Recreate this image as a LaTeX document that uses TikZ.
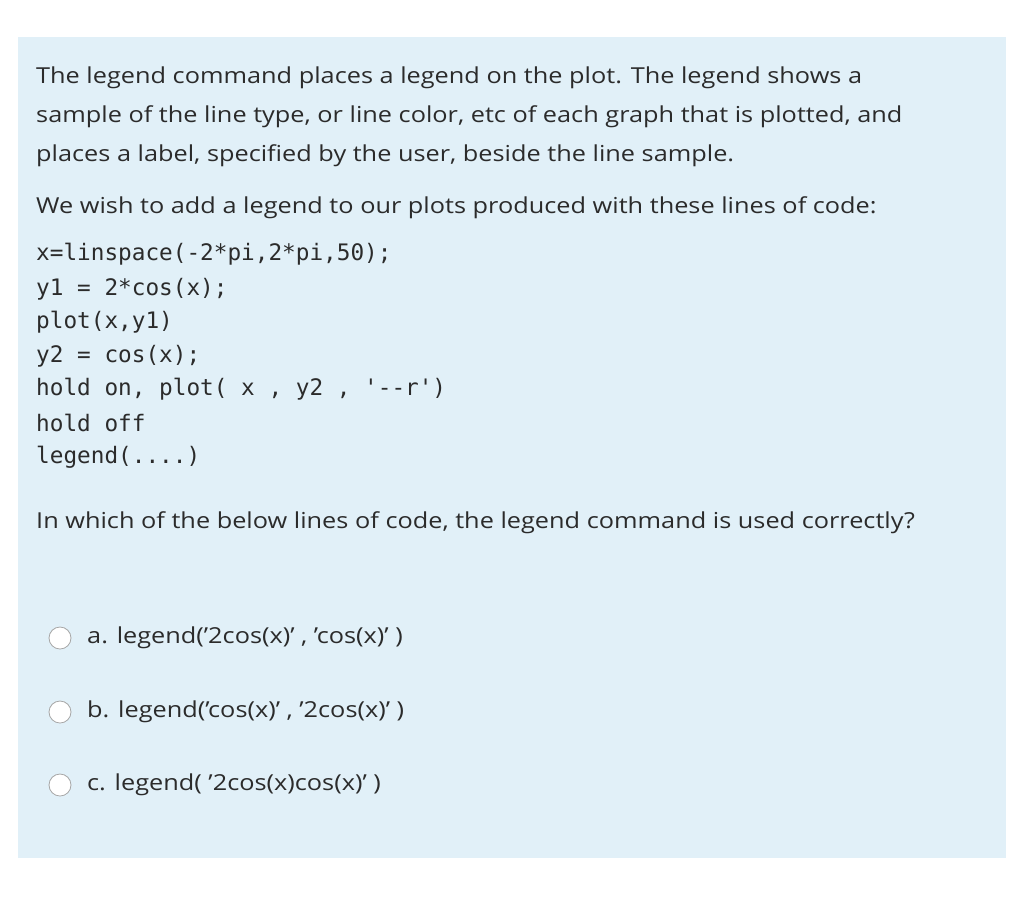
\documentclass[tikz,border=0pt]{standalone}
\usepackage{fontspec}
\setmainfont{Open Sans}[Ligatures=ResetAll]
\newfontfamily\codefont{DejaVu Sans Mono}
\definecolor{panel}{HTML}{E1F0F8}
\definecolor{txt}{HTML}{2B2B2B}
\begin{document}
\begin{tikzpicture}[x=1pt,y=-1pt,
  tl/.style={anchor=west,inner sep=0pt,font=\fontsize{22}{26}\selectfont\addfontfeature{FakeStretch=1.15},text=txt},
  cl/.style={anchor=west,inner sep=0pt,font=\codefont\fontsize{22.7}{26}\selectfont,text=txt},
  radio/.style={circle,draw=gray!70,fill=white,minimum size=22pt,inner sep=0pt,line width=0.8pt}]
\useasboundingbox (0,0) rectangle (1024,914);
\fill[white] (0,0) rectangle (1024,914);
\node[fill=panel,minimum width=988pt,minimum height=821pt,anchor=north west,inner sep=0pt] (panel) at (18,37) {};
\node[tl] (t1) at (36,78) {The legend command places a legend on the plot. The legend shows a};
\node[tl] (t2) at (36,117) {sample of the line type, or line color, etc of each graph that is plotted, and};
\node[tl] (t3) at (36,156) {places a label, specified by the user, beside the line sample.};
\node[tl] (t4) at (36,208) {We wish to add a legend to our plots produced with these lines of code:};
\node[cl] (c1) at (36,254) {x=linspace(-2*pi,2*pi,50);};
\node[cl] (c2) at (36,289) {y1 = 2*cos(x);};
\node[cl] (c3) at (36,322) {plot(x,y1)};
\node[cl] (c4) at (36,356) {y2 = cos(x);};
\node[cl] (c5) at (36,389) {hold on, plot( x , y2 , '--r')};
\node[cl] (c6) at (36,423) {hold off};
\node[cl] (c7) at (36,457) {legend(....)};
\node[tl] (q) at (36,523) {In which of the below lines of code, the legend command is used correctly?};
\node[radio] (ra) at (60,638) {};
\node[tl,anchor=west] (a) at (87,638) {a. legend('2cos(x)' , 'cos(x)' )};
\node[radio] (rb) at (60,712) {};
\node[tl,anchor=west] (b) at (87,712) {b. legend('cos(x)' , '2cos(x)' )};
\node[radio] (rc) at (60,785) {};
\node[tl,anchor=west] (c) at (87,785) {c. legend( '2cos(x)cos(x)' )};
\end{tikzpicture}
\end{document}
